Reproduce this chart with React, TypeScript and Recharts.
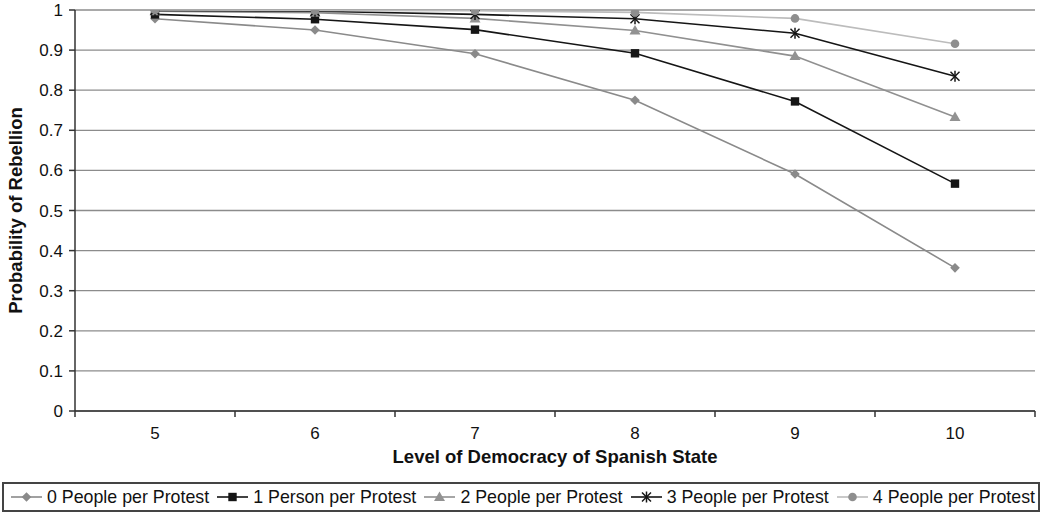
import React from 'react';
import { LineChart, Line, XAxis, YAxis, CartesianGrid, Legend } from 'recharts';

const levels = [5, 6, 7, 8, 9, 10];
const p0 = [0.978, 0.95, 0.891, 0.775, 0.591, 0.357];
const p1 = [0.989, 0.977, 0.951, 0.892, 0.772, 0.567];
const p2 = [0.997, 0.993, 0.979, 0.949, 0.885, 0.733];
const p3 = [0.999, 0.997, 0.989, 0.978, 0.942, 0.835];
const p4 = [1.0, 0.999, 0.998, 0.994, 0.979, 0.916];
const xTicks = [4.5, 5, 5.5, 6, 6.5, 7, 7.5, 8, 8.5, 9, 9.5, 10, 10.5];
const yTicks = [0, 0.1, 0.2, 0.3, 0.4, 0.5, 0.6, 0.7, 0.8, 0.9, 1];
const seriesNames = [
  '0 People per Protest',
  '1 Person per Protest',
  '2 People per Protest',
  '3 People per Protest',
  '4 People per Protest',
];

const data = levels.map((level, i) => ({
  level,
  s0: p0[i],
  s1: p1[i],
  s2: p2[i],
  s3: p3[i],
  s4: p4[i],
}));

const FONT = '"Liberation Sans", Arial, Helvetica, sans-serif';

type MarkerKind = 'diamond' | 'square' | 'triangle' | 'star' | 'circle';

function Marker({ kind, cx, cy, color }: { kind: MarkerKind; cx: number; cy: number; color: string }) {
  switch (kind) {
    case 'diamond':
      return (
        <polygon
          points={`${cx},${cy - 4.8} ${cx + 4.8},${cy} ${cx},${cy + 4.8} ${cx - 4.8},${cy}`}
          fill={color}
        />
      );
    case 'square':
      return <rect x={cx - 4.2} y={cy - 4.2} width={8.4} height={8.4} fill={color} />;
    case 'triangle':
      return (
        <polygon
          points={`${cx},${cy - 5.5} ${cx + 5.5},${cy + 4} ${cx - 5.5},${cy + 4}`}
          fill={color}
        />
      );
    case 'star':
      return (
        <g stroke={color} strokeWidth={1.5}>
          <line x1={cx - 4.5} y1={cy - 4.5} x2={cx + 4.5} y2={cy + 4.5} />
          <line x1={cx - 4.5} y1={cy + 4.5} x2={cx + 4.5} y2={cy - 4.5} />
          <line x1={cx} y1={cy - 5.5} x2={cx} y2={cy + 5.5} />
        </g>
      );
    case 'circle':
    default:
      return <circle cx={cx} cy={cy} r={4.3} fill={color} />;
  }
}

const seriesStyle: { key: string; line: string; marker: string; kind: MarkerKind }[] = [
  { key: 's0', line: '#8a8a8a', marker: '#8a8a8a', kind: 'diamond' },
  { key: 's1', line: '#151515', marker: '#151515', kind: 'square' },
  { key: 's2', line: '#909090', marker: '#929292', kind: 'triangle' },
  { key: 's3', line: '#151515', marker: '#151515', kind: 'star' },
  { key: 's4', line: '#bcbcbc', marker: '#8e8e8e', kind: 'circle' },
];

const makeDot = (kind: MarkerKind, color: string) => (props: any) => {
  const { cx, cy, index } = props;
  if (cx == null || cy == null) return <g key={`e-${kind}-${index}`} />;
  return (
    <g key={`d-${kind}-${index}`}>
      <Marker kind={kind} cx={cx} cy={cy} color={color} />
    </g>
  );
};

const XTick = (props: any) => {
  const { x, y, payload } = props;
  const v = payload.value;
  if (Number.isInteger(v)) {
    return (
      <text x={x} y={y + 16} dy="0.71em" textAnchor="middle" fontSize={17} fill="#111" fontFamily={FONT}>
        {v}
      </text>
    );
  }
  return <line x1={x} y1={y} x2={x} y2={y + 6} stroke="#333" strokeWidth={1.5} />;
};

const XTitle = (props: any) => {
  const vb = props.viewBox || { x: 75, y: 411, width: 960, height: 71 };
  return (
    <text
      x={vb.x + vb.width / 2}
      y={vb.y + 51.5}
      textAnchor="middle"
      fontSize={18.5}
      fontWeight="bold"
      fill="#111"
      fontFamily={FONT}
    >
      Level of Democracy of Spanish State
    </text>
  );
};

const YTitle = (props: any) => {
  const vb = props.viewBox || { x: 0, y: 10, width: 75, height: 401 };
  const cx = vb.x + 22;
  const cy = vb.y + vb.height / 2;
  return (
    <text
      x={cx}
      y={cy}
      transform={`rotate(-90 ${cx} ${cy})`}
      textAnchor="middle"
      fontSize={18.5}
      fontWeight="bold"
      fill="#111"
      fontFamily={FONT}
    >
      Probability of Rebellion
    </text>
  );
};

const LegendBox = () => (
  <div
    style={{
      margin: '0 2px',
      height: 30,
      boxSizing: 'border-box',
      border: '2px solid #444',
      display: 'flex',
      alignItems: 'center',
      justifyContent: 'space-between',
      padding: '0 3px 0 7px',
      fontFamily: FONT,
      fontSize: 17.8,
      color: '#111',
      background: '#fff',
    }}
  >
    {seriesStyle.map((s, i) => (
      <div key={s.key} style={{ display: 'flex', alignItems: 'center', whiteSpace: 'nowrap' }}>
        <svg width={31} height={16} style={{ marginRight: 5 }}>
          <line x1={0} y1={8} x2={31} y2={8} stroke={s.line} strokeWidth={1.6} />
          <Marker kind={s.kind} cx={15.5} cy={8} color={s.marker} />
        </svg>
        <span>{seriesNames[i]}</span>
      </div>
    ))}
  </div>
);

export default function App() {
  return (
    <div style={{ position: 'absolute', left: 0, top: 0, width: 1042, height: 514, background: '#fff' }}>
      <LineChart width={1042} height={514} data={data} margin={{ top: 10, right: 7, left: 0, bottom: 2 }}>
        <CartesianGrid vertical={false} stroke="#8c8c8c" strokeWidth={1.3} />
        <XAxis
          type="number"
          dataKey="level"
          domain={[4.5, 10.5]}
          allowDataOverflow
          ticks={xTicks}
          interval={0}
          height={71}
          tickSize={0}
          tickMargin={0}
          tickLine={false}
          tick={<XTick />}
          axisLine={{ stroke: '#333', strokeWidth: 1.5 }}
          label={{ content: XTitle }}
        />
        <YAxis
          type="number"
          domain={[0, 1]}
          allowDataOverflow
          ticks={yTicks}
          interval={0}
          width={75}
          tickSize={6}
          tickMargin={6}
          tickFormatter={(v: number) => String(v)}
          tick={{ fill: '#111', fontSize: 17, fontFamily: FONT }}
          tickLine={{ stroke: '#333', strokeWidth: 1.5 }}
          axisLine={{ stroke: '#333', strokeWidth: 1.5 }}
          label={{ content: YTitle }}
        />
        <Legend
          verticalAlign="bottom"
          layout="horizontal"
          content={() => <LegendBox />}
          wrapperStyle={{ left: 0, width: 1042, bottom: 2 }}
        />
        {seriesStyle.map((s, i) => (
          <Line
            key={s.key}
            type="linear"
            dataKey={s.key}
            name={seriesNames[i]}
            stroke={s.line}
            strokeWidth={1.6}
            dot={makeDot(s.kind, s.marker)}
            activeDot={false}
            isAnimationActive={false}
          />
        ))}
      </LineChart>
    </div>
  );
}
